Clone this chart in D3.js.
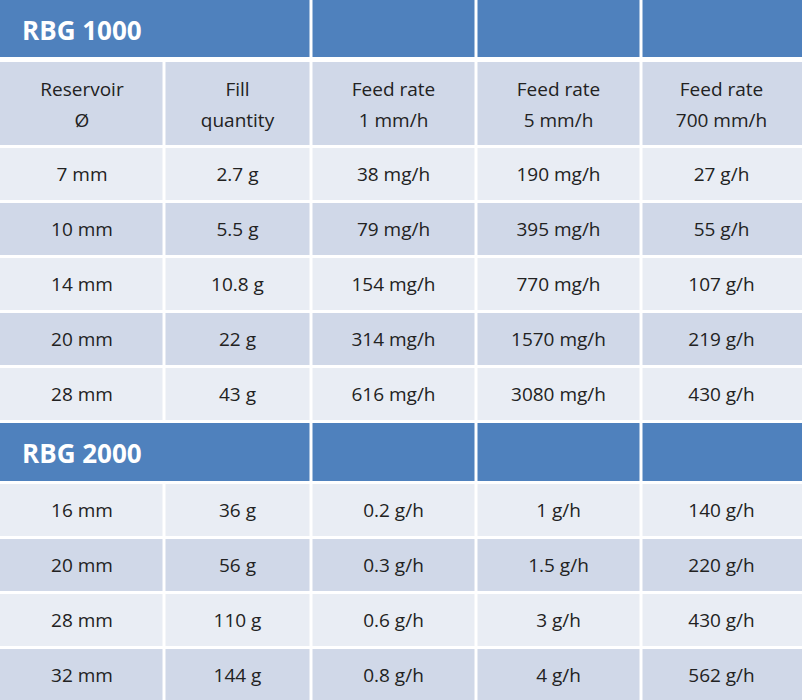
<!DOCTYPE html>
<html><head><meta charset="utf-8">
<script src="https://cdn.jsdelivr.net/npm/d3@7"></script>
<style>body{margin:0;background:#fff}</style></head>
<body><svg id="c" width="802" height="700"></svg>
<script>
const headers = [["Reservoir","Ø"],["Fill","quantity"],["Feed rate","1 mm/h"],["Feed rate","5 mm/h"],["Feed rate","700 mm/h"]];
const section1 = "RBG 1000";
const rows1 = [
 ["7 mm","2.7 g","38 mg/h","190 mg/h","27 g/h"],
 ["10 mm","5.5 g","79 mg/h","395 mg/h","55 g/h"],
 ["14 mm","10.8 g","154 mg/h","770 mg/h","107 g/h"],
 ["20 mm","22 g","314 mg/h","1570 mg/h","219 g/h"],
 ["28 mm","43 g","616 mg/h","3080 mg/h","430 g/h"]];
const section2 = "RBG 2000";
const rows2 = [
 ["16 mm","36 g","0.2 g/h","1 g/h","140 g/h"],
 ["20 mm","56 g","0.3 g/h","1.5 g/h","220 g/h"],
 ["28 mm","110 g","0.6 g/h","3 g/h","430 g/h"],
 ["32 mm","144 g","0.8 g/h","4 g/h","562 g/h"]];

const svg = d3.select("#c");
const edges = [0,164,311,476,641,802];
const gap = 3;
const font = "'Open Sans', sans-serif";
const blue = "#4F81BD", dark = "#D0D8E8", light = "#E9EDF4";

function cell(x0,x1,y0,y1,fill){
  svg.append("rect").attr("x",x0+(x0>0?gap/2:0)).attr("y",y0).attr("width",x1-x0-(x0>0?gap/2:0)-(x1<802?gap/2:0)).attr("height",y1-y0).attr("fill",fill);
}
function text(x,y,t,opt={}){
  svg.append("text").attr("x",x).attr("y",y).attr("text-anchor",opt.anchor||"middle")
   .attr("dominant-baseline","central").attr("font-family",font).attr("font-size",opt.size||19)
   .attr("font-weight",opt.bold?"bold":"normal").attr("fill",opt.color||"#222").text(t);
}
function section(title,y0,y1){
  const spans=[[0,2],[2,3],[3,4],[4,5]];
  spans.forEach(s=>cell(edges[s[0]],edges[s[1]],y0,y1,blue));
  text(22,(y0+y1)/2+1,title,{anchor:"start",bold:true,size:26,color:"#fff"});
}
function dataRows(rows,yStart,h,step,startLight){
  rows.forEach((r,i)=>{
    const y0=yStart+i*step, fill=((i%2===0)===startLight)?light:dark;
    r.forEach((v,j)=>{cell(edges[j],edges[j+1],y0,y0+h,fill);text((edges[j]+edges[j+1])/2,y0+h/2,v);});
  });
}
section(section1,0,57);
headers.forEach((hd,j)=>{
  cell(edges[j],edges[j+1],62,145,dark);
  text((edges[j]+edges[j+1])/2,89,hd[0]);
  text((edges[j]+edges[j+1])/2,120,hd[1]);
});
dataRows(rows1,148,52,55,true);
section(section2,423,481);
dataRows(rows2,484,52,55,true);
</script></body></html>
